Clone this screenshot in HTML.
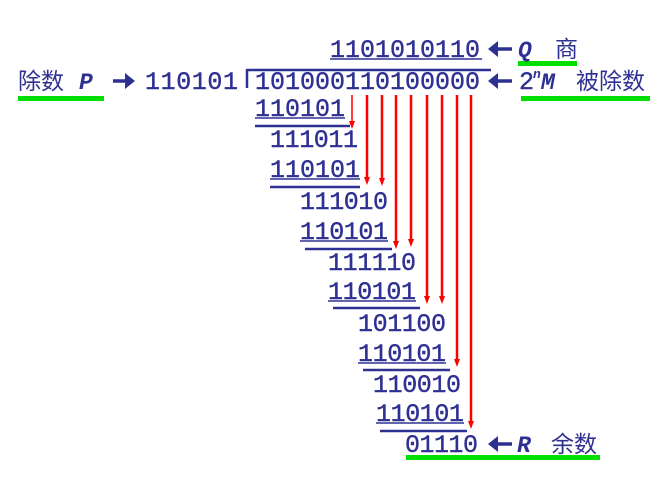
<!DOCTYPE html>
<html><head><meta charset="utf-8"><style>
html,body{margin:0;padding:0;background:#fff;width:670px;height:495px;overflow:hidden}
svg{display:block}
.m{font-family:"Liberation Mono",monospace;font-size:25px;fill:#2e3192;stroke:#2e3192;stroke-width:0.4}
.c{font-family:"Liberation Sans","Noto Sans CJK SC",sans-serif;font-size:23px;fill:#2e3192}
.i{font-family:"Liberation Mono",monospace;font-size:23px;fill:#2e3192;font-weight:bold;font-style:italic}
</style></head><body>
<svg width="670" height="495" viewBox="0 0 670 495">
<g fill="#00e000">
<rect x="18" y="96" width="86" height="5"/>
<rect x="518" y="61" width="59" height="5"/>
<rect x="521" y="96" width="129" height="5"/>
<rect x="406" y="455" width="194" height="5"/>
</g>
<g stroke="#f00" stroke-width="2.5" fill="none">
<line x1="352" y1="95" x2="352" y2="122" stroke-width="1.5"/>
<line x1="367" y1="95" x2="367" y2="178"/>
<line x1="382" y1="95" x2="382" y2="179"/>
<line x1="396" y1="95" x2="396" y2="242"/>
<line x1="411" y1="95" x2="411" y2="240"/>
<line x1="427" y1="95" x2="427" y2="297"/>
<line x1="442" y1="95" x2="442" y2="297"/>
<line x1="457" y1="95" x2="457" y2="360"/>
<line x1="471" y1="95" x2="471" y2="422"/>
</g>
<g fill="#f00">
<path d="M349,121h6l-3,8z"/>
<path d="M364,177h6l-3,8z"/>
<path d="M379,178h6l-3,8z"/>
<path d="M393,241h6l-3,8z"/>
<path d="M408,239h6l-3,8z"/>
<path d="M424,296h6l-3,8z"/>
<path d="M439,296h6l-3,8z"/>
<path d="M454,359h6l-3,8z"/>
<path d="M468,421h6l-3,8z"/>
</g>
<g stroke="#2e3192" stroke-width="2.5">
<line x1="247" y1="70" x2="491" y2="70"/>
<line x1="247" y1="69" x2="247" y2="88"/>
<line x1="255" y1="126" x2="350" y2="126"/>
<line x1="270" y1="187" x2="360" y2="187"/>
<line x1="305" y1="249" x2="392" y2="249"/>
<line x1="333" y1="308" x2="420" y2="308"/>
<line x1="363" y1="370" x2="450" y2="370"/>
<line x1="380" y1="431" x2="467" y2="431"/>
<line x1="255" y1="118" x2="345" y2="118" stroke-width="1.5"/>
<line x1="270" y1="179" x2="360" y2="179" stroke-width="1.5"/>
<line x1="300" y1="241" x2="388" y2="241" stroke-width="1.5"/>
<line x1="328" y1="301" x2="416" y2="301" stroke-width="1.5"/>
<line x1="358" y1="363" x2="446" y2="363" stroke-width="1.5"/>
<line x1="376" y1="423" x2="464" y2="423" stroke-width="1.5"/>
<line x1="330" y1="59" x2="482" y2="59" stroke-width="1.5"/>
</g>
<g fill="#2e3192" stroke="#2e3192" stroke-width="3.5">
<line x1="496" y1="49" x2="512" y2="49"/>
<line x1="496" y1="81" x2="512" y2="81"/>
<line x1="496" y1="444" x2="512" y2="444"/>
<line x1="113" y1="81" x2="127" y2="81"/>
</g>
<g fill="#2e3192">
<path d="M488,49l10,-8v16z"/>
<path d="M488,81l10,-8v16z"/>
<path d="M488,444l10,-8v16z"/>
<path d="M135,81l-10,-8v16z"/>
</g>
<text class="m" x="330" y="57" textLength="150">1101010110</text>
<text class="i" x="518" y="57">Q</text>
<text class="c" x="555" y="57">商</text>
<text class="c" x="18" y="89">除数</text>
<text class="i" x="79" y="89">P</text>
<text class="m" x="145" y="89" textLength="93">110101</text>
<text class="m" x="255" y="89" textLength="225">101000110100000</text>
<text class="m" x="519" y="89">2</text>
<text class="i" x="533" y="78" style="font-size:13px">n</text>
<text class="i" x="541" y="89">M</text>
<text class="c" x="576" y="89">被除数</text>
<text class="m" x="255" y="116" textLength="90">110101</text>
<text class="m" x="270" y="147" textLength="88">111011</text>
<text class="m" x="270" y="177" textLength="90">110101</text>
<text class="m" x="300" y="209" textLength="88">111010</text>
<text class="m" x="300" y="239" textLength="88">110101</text>
<text class="m" x="328" y="270" textLength="88">111110</text>
<text class="m" x="328" y="299" textLength="88">110101</text>
<text class="m" x="358" y="331" textLength="88">101100</text>
<text class="m" x="358" y="361" textLength="88">110101</text>
<text class="m" x="373" y="392" textLength="88">110010</text>
<text class="m" x="376" y="421" textLength="88">110101</text>
<text class="m" x="405" y="452" textLength="73">01110</text>
<text class="i" x="517" y="452">R</text>
<text class="c" x="551" y="452">余数</text>
</svg>
</body></html>
